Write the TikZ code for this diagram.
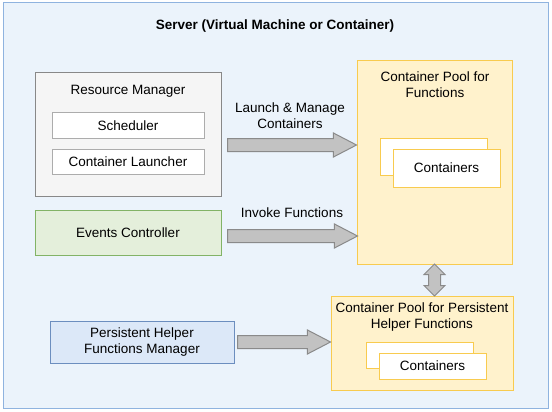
\documentclass[tikz,border=0pt]{standalone}
\usepackage{fontspec}
\setmainfont{Liberation Sans}
\usetikzlibrary{shapes.arrows,calc}
\definecolor{serverfill}{HTML}{EBF3FB}
\definecolor{serverline}{HTML}{8FB3DF}
\definecolor{rmfill}{HTML}{F5F5F5}
\definecolor{rmline}{HTML}{888888}
\definecolor{evfill}{HTML}{E4EFDB}
\definecolor{evline}{HTML}{82B366}
\definecolor{phfill}{HTML}{DCE8F8}
\definecolor{phline}{HTML}{6C8EBF}
\definecolor{poolfill}{HTML}{FFF2CC}
\definecolor{poolline}{HTML}{F8CB4F}
\definecolor{arrfill}{HTML}{C2C2C2}
\definecolor{arrline}{HTML}{8A8A8A}
\tikzset{
  box/.style={draw, line width=1pt, minimum width=#1},
  subbox/.style={draw=rmline!70, fill=white, line width=1pt, minimum width=152, minimum height=25},
  cbox/.style={draw=poolline, fill=white, line width=1pt, minimum width=107},
  blockarr/.style={single arrow, draw=arrline, fill=arrfill, line width=1pt, inner sep=6,
    single arrow head extend=5.5, single arrow tip angle=55, minimum height=#1, anchor=tail},
}
\begin{document}
\begin{tikzpicture}[x=1pt,y=-1pt,every node/.style={font=\fontsize{13.5}{16}\selectfont,align=center}]
\useasboundingbox (0,0) rectangle (552,412);
% server frame
\node[box=545, minimum height=405, draw=serverline, fill=serverfill] (server) at (275.5,205.5) {};
\node[font=\fontsize{13.5}{16}\selectfont\bfseries] (servertitle) at (275,26) {Server (Virtual Machine or Container)};

% left side
\node[box=186, minimum height=123, draw=rmline, fill=rmfill] (rm) at (128,134.5) {};
\node (rmtitle) at (128,91) {Resource Manager};
\node[subbox] (sched) at (128,125.5) {Scheduler};
\node[subbox] (launcher) at (128,161.5) {Container Launcher};
\node[box=186, minimum height=45, draw=evline, fill=evfill] (events) at (128,232.5) {Events Controller};
\node[box=184, minimum height=42, draw=phline, fill=phfill] (helper) at (142,342) {Persistent Helper\\Functions Manager};

% right side
\node[box=155, minimum height=203, draw=poolline, fill=poolfill] (pool) at (434.5,162.5) {};
\node (pooltitle) at (435,85) {Container Pool for\\Functions};
\node[cbox, minimum height=37] (cback) at (434,156.5) {};
\node[cbox, minimum height=38] (cfront) at (446.5,168) {Containers};
\node[box=182, minimum height=94, draw=poolline, fill=poolfill] (ppool) at (422,343) {};
\node (ppooltitle) at (422,317) {Container Pool for Persistent\\Helper Functions};
\node[cbox, minimum height=26] (pback) at (420,355) {};
\node[cbox, minimum height=26] (pfront) at (432.5,366) {Containers};

% arrows
\coordinate (launchA) at (227,145);
\node[blockarr=129] (launch) at (launchA) {};
\node (launchlbl) at (290,116) {Launch \& Manage\\Containers};
\coordinate (invokeA) at (227,236);
\node[blockarr=130] (invoke) at (invokeA) {};
\node (invokelbl) at (292,213) {Invoke Functions};
\coordinate (persistA) at (237,342);
\node[blockarr=93] (persist) at (persistA) {};
\coordinate (linkA) at (pool.south);
\coordinate (linkB) at (ppool.north -| linkA);
\node[double arrow, shape border rotate=90, draw=arrline, fill=arrfill, line width=1pt, inner sep=5.5,
  double arrow head extend=4.5, double arrow tip angle=90, minimum height=32] (link) at ($(linkA)!0.5!(linkB)$) {};
\end{tikzpicture}
\end{document}
